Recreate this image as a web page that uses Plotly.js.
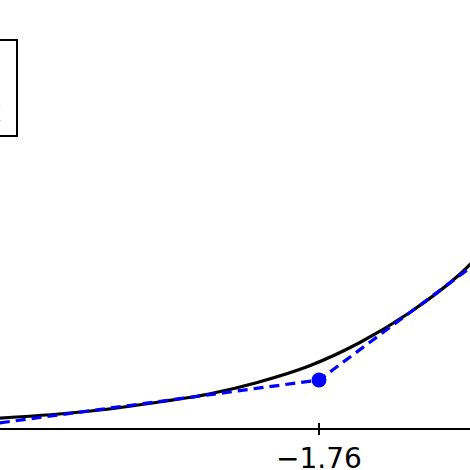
<!DOCTYPE html>
<html>
<head>
<meta charset="utf-8">
<script src="https://cdn.plot.ly/plotly-3.0.1.min.js"></script>
<style>
  html, body { margin: 0; padding: 0; width: 470px; height: 470px; overflow: hidden; background: #fff; }
  #chart { position: absolute; left: -500px; top: -250px; }
</style>
</head>
<body>
<div id="chart"></div>
<script>
// Values (only a crop of the full figure is visible)
const exactX = [-3.1, -3.0, -2.8, -2.6, -2.4, -2.2, -2.0, -1.8, -1.6, -1.4, -1.2, -1.0];
const exactY = [0.09, 0.105, 0.14, 0.19, 0.26, 0.34, 0.46, 0.62, 0.85, 1.15, 1.53, 2.06];

const approxX = [-3.1, -1.76, -1.0];
const approxY = [0.03, 0.48, 1.89];

const tickVals = [-1.76];
const tickText = ['\u22121.76'];

const FONT = { family: 'DejaVu Sans, sans-serif', size: 28, color: '#000' };

const exact = {
  type: 'scatter',
  mode: 'lines',
  name: 'exact\u00a0',
  legendgroup: 'a',
  x: exactX,
  y: exactY,
  line: { color: '#000', width: 3.2, shape: 'spline', smoothing: 1 },
  xaxis: 'x',
  yaxis: 'y',
};

const approx = {
  type: 'scatter',
  mode: 'lines+markers',
  name: 'approx\u00a0',
  legendgroup: 'b',
  x: approxX,
  y: approxY,
  line: { color: '#0000ff', width: 3.2, dash: '10px,6px' },
  marker: { color: '#0000ff', size: 15 },
  xaxis: 'x2',
  yaxis: 'y',
};

const xRange = [-4.836, -0.836];

const layout = {
  width: 1100,
  height: 750,
  margin: { l: 50, r: 50, t: 50, b: 72 },
  paper_bgcolor: '#fff',
  plot_bgcolor: '#fff',
  font: FONT,
  showlegend: true,
  legend: {
    x: 0.468, xanchor: 'right',
    y: 0.6194, yanchor: 'top',
    bordercolor: '#000', borderwidth: 2,
    bgcolor: '#fff',
    font: FONT,
    tracegroupgap: 5,
  },
  xaxis: {
    range: xRange,
    showgrid: false, zeroline: false,
    showline: true, linecolor: '#000', linewidth: 1.5,
    ticks: 'outside', ticklen: 5, tickwidth: 1.5, tickcolor: '#000',
    tickmode: 'array', tickvals: tickVals, ticktext: tickText,
    tickfont: FONT,
  },
  xaxis2: {
    range: xRange,
    overlaying: 'x', anchor: 'y', side: 'bottom',
    showgrid: false, zeroline: false, showline: false,
    ticks: 'inside', ticklen: 5, tickwidth: 1.5, tickcolor: '#000',
    tickmode: 'array', tickvals: tickVals, ticktext: tickText,
    showticklabels: false,
  },
  yaxis: {
    range: [0, 6.28],
    showgrid: false, zeroline: false,
    showline: true, linecolor: '#000', linewidth: 1.5,
    showticklabels: false, ticks: '',
  },
};

Plotly.newPlot('chart', [exact, approx], layout, { displayModeBar: false, staticPlot: true });
</script>
</body>
</html>
